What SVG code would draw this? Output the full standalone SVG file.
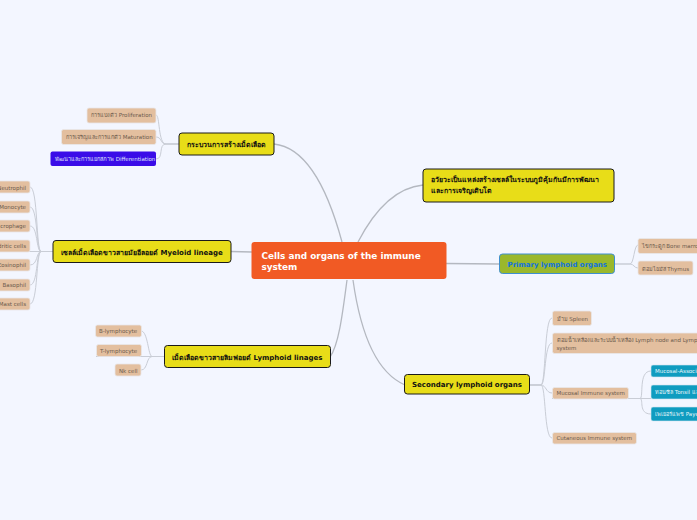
<svg xmlns="http://www.w3.org/2000/svg" width="697" height="520" viewBox="0 0 697 520">
<style>
text{font-family:"DejaVu Sans","Noto Sans",sans-serif}
.c{fill:none;stroke:#c9cdd6;stroke-width:1}
.m{fill:none;stroke:#b4b8c0;stroke-width:1.3}
.y rect{fill:#e8dd18;stroke:#1a1a1a;stroke-width:1}
.y text{font-size:7px;font-weight:bold;fill:#111}
.t rect{fill:#e3bf9f;stroke:#e9e7ea;stroke-width:.8}
.t text{font-size:5.5px;fill:#6b5a4c}
.b rect{fill:#0f9cc0;stroke:#d6e6f0;stroke-width:.6}
.b text{font-size:5.5px;fill:#e6f6fa}
</style>
<rect width="697" height="520" fill="#f3f6ff"/>
<g id="connectors">
<path class="m" d="M342 242C332 205 312 148 274 144"/>
<path class="m" d="M358 242C372 215 392 188 423 185"/>
<path class="m" d="M446 263.500L499 264"/>
<path class="m" d="M252 252L231 251.500"/>
<path class="m" d="M347 280C343 310 339 345 330 357"/>
<path class="m" d="M353 280C360 330 375 372 405 385"/>
<path class="c" d="M179 144H166C158 144 160 115 156 115"/>
<path class="c" d="M179 144H166C160 144 162 137 156 137"/>
<path class="c" d="M179 144H166C158 144 164 159 156 159"/>
<path class="c" d="M53 251.500H41C36 251 38 187 30 187"/>
<path class="c" d="M53 251.500H41C36 251 38 207 30 207"/>
<path class="c" d="M53 251.500H41C36 251 38 226 30 226"/>
<path class="c" d="M53 251.500H0"/>
<path class="c" d="M53 251.500H41C36 252 38 265 30 265"/>
<path class="c" d="M53 251.500H41C36 252 38 285 30 285"/>
<path class="c" d="M53 251.500H41C36 252 38 304 30 304"/>
<path class="c" d="M164 356.500H152C148 356 148 331 141 331"/>
<path class="c" d="M164 356.500H96"/>
<path class="c" d="M164 356.500H152C146 357 148 370 141 370"/>
<path class="c" d="M614 264H630C634 264 634 245 638 245"/>
<path class="c" d="M614 264H630C634 264 634 268 638 268"/>
<path class="c" d="M529 385H541C546 384 544 318 552 318"/>
<path class="c" d="M529 385H541C546 384 544 343 552 343"/>
<path class="c" d="M529 385H541C546 385 546 393 552 393"/>
<path class="c" d="M529 385H541C546 385 544 438 552 438"/>
<path class="c" d="M629 398.500H640C644 398 638 371 651 371"/>
<path class="c" d="M552 398.500H651"/>
<path class="c" d="M629 398.500H640C644 399 638 414 651 414"/>
</g>
<g id="root"><rect x="251.500" y="242" width="195" height="37" rx="3" fill="#f15a24"/><text x="261.500" y="259" font-size="8.900" font-weight="bold" fill="#fff">Cells and organs of the immune</text><text x="261.500" y="270" font-size="8.900" font-weight="bold" fill="#fff">system</text></g>
<g id="n-process" class="y"><rect x="179" y="133" width="95" height="22" rx="3"/><text x="187" y="147">กระบวนการสร้างเม็ดเลือด</text></g>
<g id="n-organs" class="y"><rect x="423" y="169" width="191" height="33" rx="3"/><text x="431" y="182">อวัยวะเป็นแหล่งสร้างเซลล์ในระบบภูมิคุ้มกันมีการพัฒนา</text><text x="431" y="193">และการเจริญเติบโต</text></g>
<g id="n-myeloid" class="y"><rect x="53" y="240.500" width="178" height="22" rx="3"/><text x="61" y="254.500">เซลล์เม็ดเลือดขาวสายมัยอีลอยด์ Myeloid lineage</text></g>
<g id="n-lymphoid" class="y"><rect x="164.500" y="345.500" width="166" height="22" rx="3"/><text x="172" y="359.500">เม็ดเลือดขาวสายลิมฟอยด์ Lymphoid linages</text></g>
<g id="n-secondary" class="y"><rect x="404.500" y="374.500" width="125" height="19.500" rx="3"/><text x="412" y="387">Secondary lymphoid organs</text></g>
<g id="n-primary"><rect x="499.500" y="254" width="115" height="19.500" rx="3" fill="#9ab82c" stroke="#3d8fd0" stroke-width="1"/><text x="507.500" y="267" font-size="7" font-weight="bold" fill="#1273de">Primary lymphoid organs</text></g>
<g id="n-prolif" class="t"><rect x="87" y="108" width="69" height="15" rx="2"/><text x="91" y="117">การแบ่งตัว Proliferation</text></g>
<g id="n-matur" class="t"><rect x="61.500" y="129.500" width="94.500" height="15" rx="2"/><text x="66" y="139">การเจริญและการแก่ตัว Maturation</text></g>
<g id="n-diff"><rect x="50.500" y="151.500" width="105.500" height="14.500" rx="2" fill="#3a0ce8"/><text x="55" y="161" font-size="5.500" fill="#dfe3fa">พัฒนาและการแยกสภาพ Differentiation</text></g>
<g id="n-neutrophil" class="t"><rect x="-8" y="181" width="38" height="12" rx="2"/><text x="26" y="189.500" text-anchor="end">Neutrophil</text></g>
<g id="n-monocyte" class="t"><rect x="-8" y="201" width="38" height="12" rx="2"/><text x="26" y="209" text-anchor="end">Monocyte</text></g>
<g id="n-macrophage" class="t"><rect x="-12" y="220" width="42" height="12" rx="2"/><text x="26" y="228" text-anchor="end">Macrophage</text></g>
<g id="n-dendritic" class="t"><rect x="-22" y="240" width="52" height="12" rx="2"/><text x="26" y="248" text-anchor="end">Dendritic cells</text></g>
<g id="n-eosinophil" class="t"><rect x="-10" y="259" width="40" height="12" rx="2"/><text x="26" y="267" text-anchor="end">Eosinophil</text></g>
<g id="n-basophil" class="t"><rect x="-2" y="279" width="32" height="12" rx="2"/><text x="26" y="287" text-anchor="end">Basophil</text></g>
<g id="n-mast" class="t"><rect x="-4" y="298" width="34" height="12" rx="2"/><text x="26" y="306" text-anchor="end">Mast cells</text></g>
<g id="n-b" class="t"><rect x="95.500" y="325" width="46" height="12" rx="2"/><text x="99" y="333">B-lymphocyte</text></g>
<g id="n-tl" class="t"><rect x="96.500" y="344.500" width="45" height="12" rx="2"/><text x="100" y="353">T-lymphocyte</text></g>
<g id="n-nk" class="t"><rect x="115" y="364" width="26" height="12" rx="2"/><text x="119" y="372.500">Nk cell</text></g>
<g id="n-marrow" class="t"><rect x="638" y="238.500" width="70" height="15" rx="2"/><text x="641.500" y="248">ไขกระดูก Bone marrow</text></g>
<g id="n-thymus" class="t"><rect x="638" y="261" width="55" height="14" rx="2"/><text x="641.500" y="270.500">ต่อมไธมัส Thymus</text></g>
<g id="n-spleen" class="t"><rect x="552.500" y="311" width="39" height="14.500" rx="2"/><text x="556.500" y="320.500">ม้าม Spleen</text></g>
<g id="n-node" class="t"><rect x="552.500" y="333" width="160" height="20.500" rx="2"/><text x="556.500" y="341.500">ต่อมน้ำเหลืองและระบบน้ำเหลือง Lymph node and Lymphatic</text><text x="556.500" y="350">system</text></g>
<g id="n-mucosal" class="t"><rect x="552.500" y="387.500" width="76" height="11.500" rx="2"/><text x="556.500" y="395">Mucosal Immune system</text></g>
<g id="n-cutaneous" class="t"><rect x="552.500" y="432.500" width="84" height="11.500" rx="2"/><text x="556.500" y="440">Cutaneous Immune system</text></g>
<g id="n-malt" class="b"><rect x="651" y="365" width="60" height="12" rx="2"/><text x="655" y="373">Mucosal-Associated</text></g>
<g id="n-tonsil" class="b"><rect x="651" y="385" width="60" height="14" rx="2"/><text x="655" y="394">ทอนซิล Tonsil และ</text></g>
<g id="n-peyer" class="b"><rect x="651" y="407" width="60" height="14" rx="2"/><text x="655" y="416">เพเยอร์แพช Payer</text></g>
</svg>
